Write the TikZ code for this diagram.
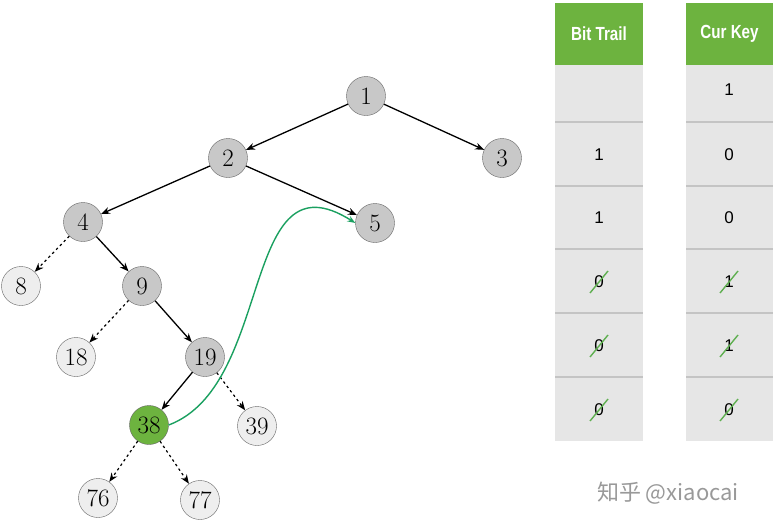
\documentclass[tikz,border=0pt]{standalone}
\usepackage{fontspec}
\newfontfamily\cjk{Noto Sans CJK SC}
\newfontfamily\lib{Liberation Sans}
\usetikzlibrary{arrows.meta}
\definecolor{hdr}{HTML}{6DB33F}
\definecolor{cellg}{HTML}{E6E6E6}
\definecolor{sep}{HTML}{C4C4C4}
\definecolor{nodeg}{HTML}{C8C8C8}
\definecolor{leafg}{HTML}{EEEEEE}
\definecolor{curveg}{HTML}{1AA060}
\definecolor{strk}{HTML}{5FAF50}
\begin{document}
\begin{tikzpicture}[x=1pt,y=-1pt,
  tn/.style={circle,draw=black!60,fill=nodeg,minimum size=39pt,inner sep=0pt,font=\fontsize{25}{25}\selectfont},
  lf/.style={tn,fill=leafg},
  gn/.style={tn,fill=hdr},
  ed/.style={-{Stealth[length=9pt,width=7pt]},line width=1.3pt},
  de/.style={ed,dash pattern=on 2.5pt off 3pt,line width=1.2pt},
  hd/.style={fill=hdr,text=white,font=\lib\bfseries\fontsize{19}{19}\selectfont},
  dg/.style={font=\lib\fontsize{17}{17}\selectfont}]
\useasboundingbox (0,0) rectangle (775,525);
\fill[white] (0,0) rectangle (775,525);
% tables
\foreach \xl/\xr/\t [count=\c] in {555/643/Bit Trail,686/773/Cur Key}{
  \fill[hdr] (\xl,3) rectangle (\xr,65);
  \node[hd,text=white,xscale=0.8] (h\c) at ({(\xl+\xr)/2},34) {\t};
  \fill[cellg] (\xl,65) rectangle (\xr,441);
  \foreach \yy in {122,186,249,313,377}{\draw[sep,line width=1.2pt] (\xl,\yy)--(\xr,\yy);}
}
\node[dg] (b2) at (599,155) {1};
\node[dg] (b3) at (599,218) {1};
\node[dg] (b4) at (599,282) {0};
\node[dg] (b5) at (599,346) {0};
\node[dg] (b6) at (599,410) {0};
\node[dg] (k1) at (729,90) {1};
\node[dg] (k2) at (729,155) {0};
\node[dg] (k3) at (729,218) {0};
\node[dg] (k4) at (729,282) {1};
\node[dg] (k5) at (729,346) {1};
\node[dg] (k6) at (729,410) {0};
\foreach \n in {b4,b5,b6,k4,k5,k6}{
  \draw[strk,line width=1.4pt] ([shift={(-9,11)}]\n.center)--([shift={(9,-11)}]\n.center);}
% tree
\node[tn] (n1) at (366,96) {1};
\node[tn] (n2) at (228,158) {2};
\node[tn] (n3) at (502,158) {3};
\node[tn] (n4) at (83,222) {4};
\node[tn] (n5) at (375,223) {5};
\node[lf] (n8) at (21,286) {8};
\node[tn] (n9) at (142,286) {9};
\node[lf] (n18) at (76,357) {18};
\node[tn] (n19) at (205,357) {19};
\node[gn] (n38) at (149,425) {38};
\node[lf] (n39) at (257,426) {39};
\node[lf] (n76) at (98,498) {76};
\node[lf] (n77) at (200,500) {77};
\draw[ed] (n1)--(n2);
\draw[ed] (n1)--(n3);
\draw[ed] (n2)--(n4);
\draw[ed] (n2)--(n5);
\draw[ed] (n4)--(n9);
\draw[ed] (n9)--(n19);
\draw[ed] (n19)--(n38);
\draw[de] (n4)--(n8);
\draw[de] (n9)--(n18);
\draw[de] (n19)--(n39);
\draw[de] (n38)--(n76);
\draw[de] (n38)--(n77);
\draw[curveg,line width=1.4pt,-{Stealth[length=8pt,width=6pt]}] (n38.east) .. controls (275,385) and (240,150) .. (n5.west);
\node[text=black!40,font=\cjk\fontsize{22}{22}\selectfont] (wm) at (668,493) {知乎 @xiaocai};
\end{tikzpicture}
\end{document}
